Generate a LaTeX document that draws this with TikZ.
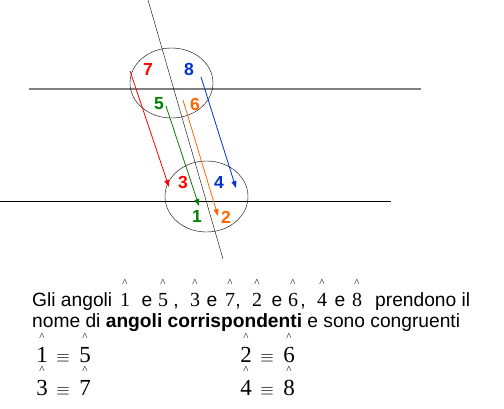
\documentclass[tikz,border=0pt]{standalone}
\usepackage{fontspec}
\setmainfont{Liberation Sans}
\newfontfamily\serifcifre{Liberation Serif}
\usetikzlibrary{arrows.meta}
\definecolor{rosso}{RGB}{255,0,0}
\definecolor{blu}{RGB}{0,51,204}
\definecolor{verde}{RGB}{0,128,0}
\definecolor{arancio}{RGB}{255,102,0}

\begin{document}
\begin{tikzpicture}[x=1pt,y=-1pt,
    numero/.style={font=\fontsize{17.5}{17.5}\selectfont\bfseries,inner sep=0pt},
    freccia/.style={-{Triangle[length=7pt,width=5pt]},line width=0.8pt},
    testo/.style={font=\fontsize{19.2}{19.2}\selectfont,inner sep=0pt,anchor=base},
    cifra/.style={font=\fontsize{20}{20}\selectfont\serifcifre,inner sep=0pt,anchor=base},
    cifragrande/.style={cifra,font=\fontsize{23}{23}\selectfont\serifcifre},
    cappello/.style={font=\fontsize{11}{11}\selectfont\serifcifre,inner sep=0pt,anchor=base}]
    \useasboundingbox (0,0) rectangle (504,409);
    \draw[line width=2pt,gray] (29,89) -- (421,89);
    \draw (0,201) -- (391,201);
    \draw (148,0) -- (223,259);
    \draw (171.5,83) ellipse [x radius=41.5,y radius=35];
    \draw (206.5,196.5) ellipse [x radius=41.5,y radius=35.5];
    \node[numero,rosso] (n7) at (148,69) {7};
    \node[numero,blu] (n8) at (189,69) {8};
    \node[numero,verde] (n5) at (159,104) {5};
    \node[numero,arancio] (n6) at (195,104) {6};
    \node[numero,rosso] (n3) at (183,182) {3};
    \node[numero,blu] (n4) at (219,182) {4};
    \node[numero,verde] (n1) at (197,216) {1};
    \node[numero,arancio] (n2) at (226,217) {2};
    \coordinate (rossoA) at (130,71);
    \coordinate (rossoB) at (169,187);
    \coordinate (verdeA) at (166,106);
    \coordinate (verdeB) at (199,206);
    \coordinate (arancioA) at (183,100);
    \coordinate (arancioB) at (218,216);
    \coordinate (bluA) at (201,77);
    \coordinate (bluB) at (236,188);
    \draw[freccia,rosso] (rossoA) -- (rossoB);
    \draw[freccia,verde] (verdeA) -- (verdeB);
    \draw[freccia,arancio] (arancioA) -- (arancioB);
    \draw[freccia,blu] (bluA) -- (bluB);
    \node[testo,anchor=base west] (gli) at (32,306) {Gli angoli};
    \foreach \n/\x in {1/125,5/163,3/195,7/230,2/257,6/293,4/322,8/357} {
        \node[cifra] (r\n) at (\x,306) {\n};
        \node[cappello] (rh\n) at (\x,287) {\textasciicircum};
    }
    \foreach \x [count=\i] in {147,212,277,340} \node[testo] (e\i) at (\x,306) {e};
    \foreach \x [count=\i] in {176,238,303} \node[testo] (virgola\i) at (\x,306) {,};
    \node[testo,anchor=base west] (prendono) at (375,306) {prendono il};
    \node[testo,anchor=base west] (nome) at (32,327) {nome di \textbf{angoli corrispondenti} e sono congruenti};
    \foreach \a/\b/\x/\y in {1/5/42/362,3/7/42/395,2/6/246/362,4/8/246/395} {
        \node[cifragrande] (q\a) at (\x,\y) {\a};
        \node[cappello] (qh\a) at (\x,\y-22) {\textasciicircum};
        \node[testo,font=\fontsize{17}{17}\selectfont] (equiv\a) at (\x+21,\y) {$\equiv$};
        \node[cifragrande] (q\b) at (\x+43,\y) {\b};
        \node[cappello] (qh\b) at (\x+43,\y-22) {\textasciicircum};
    }
\end{tikzpicture}
\end{document}
